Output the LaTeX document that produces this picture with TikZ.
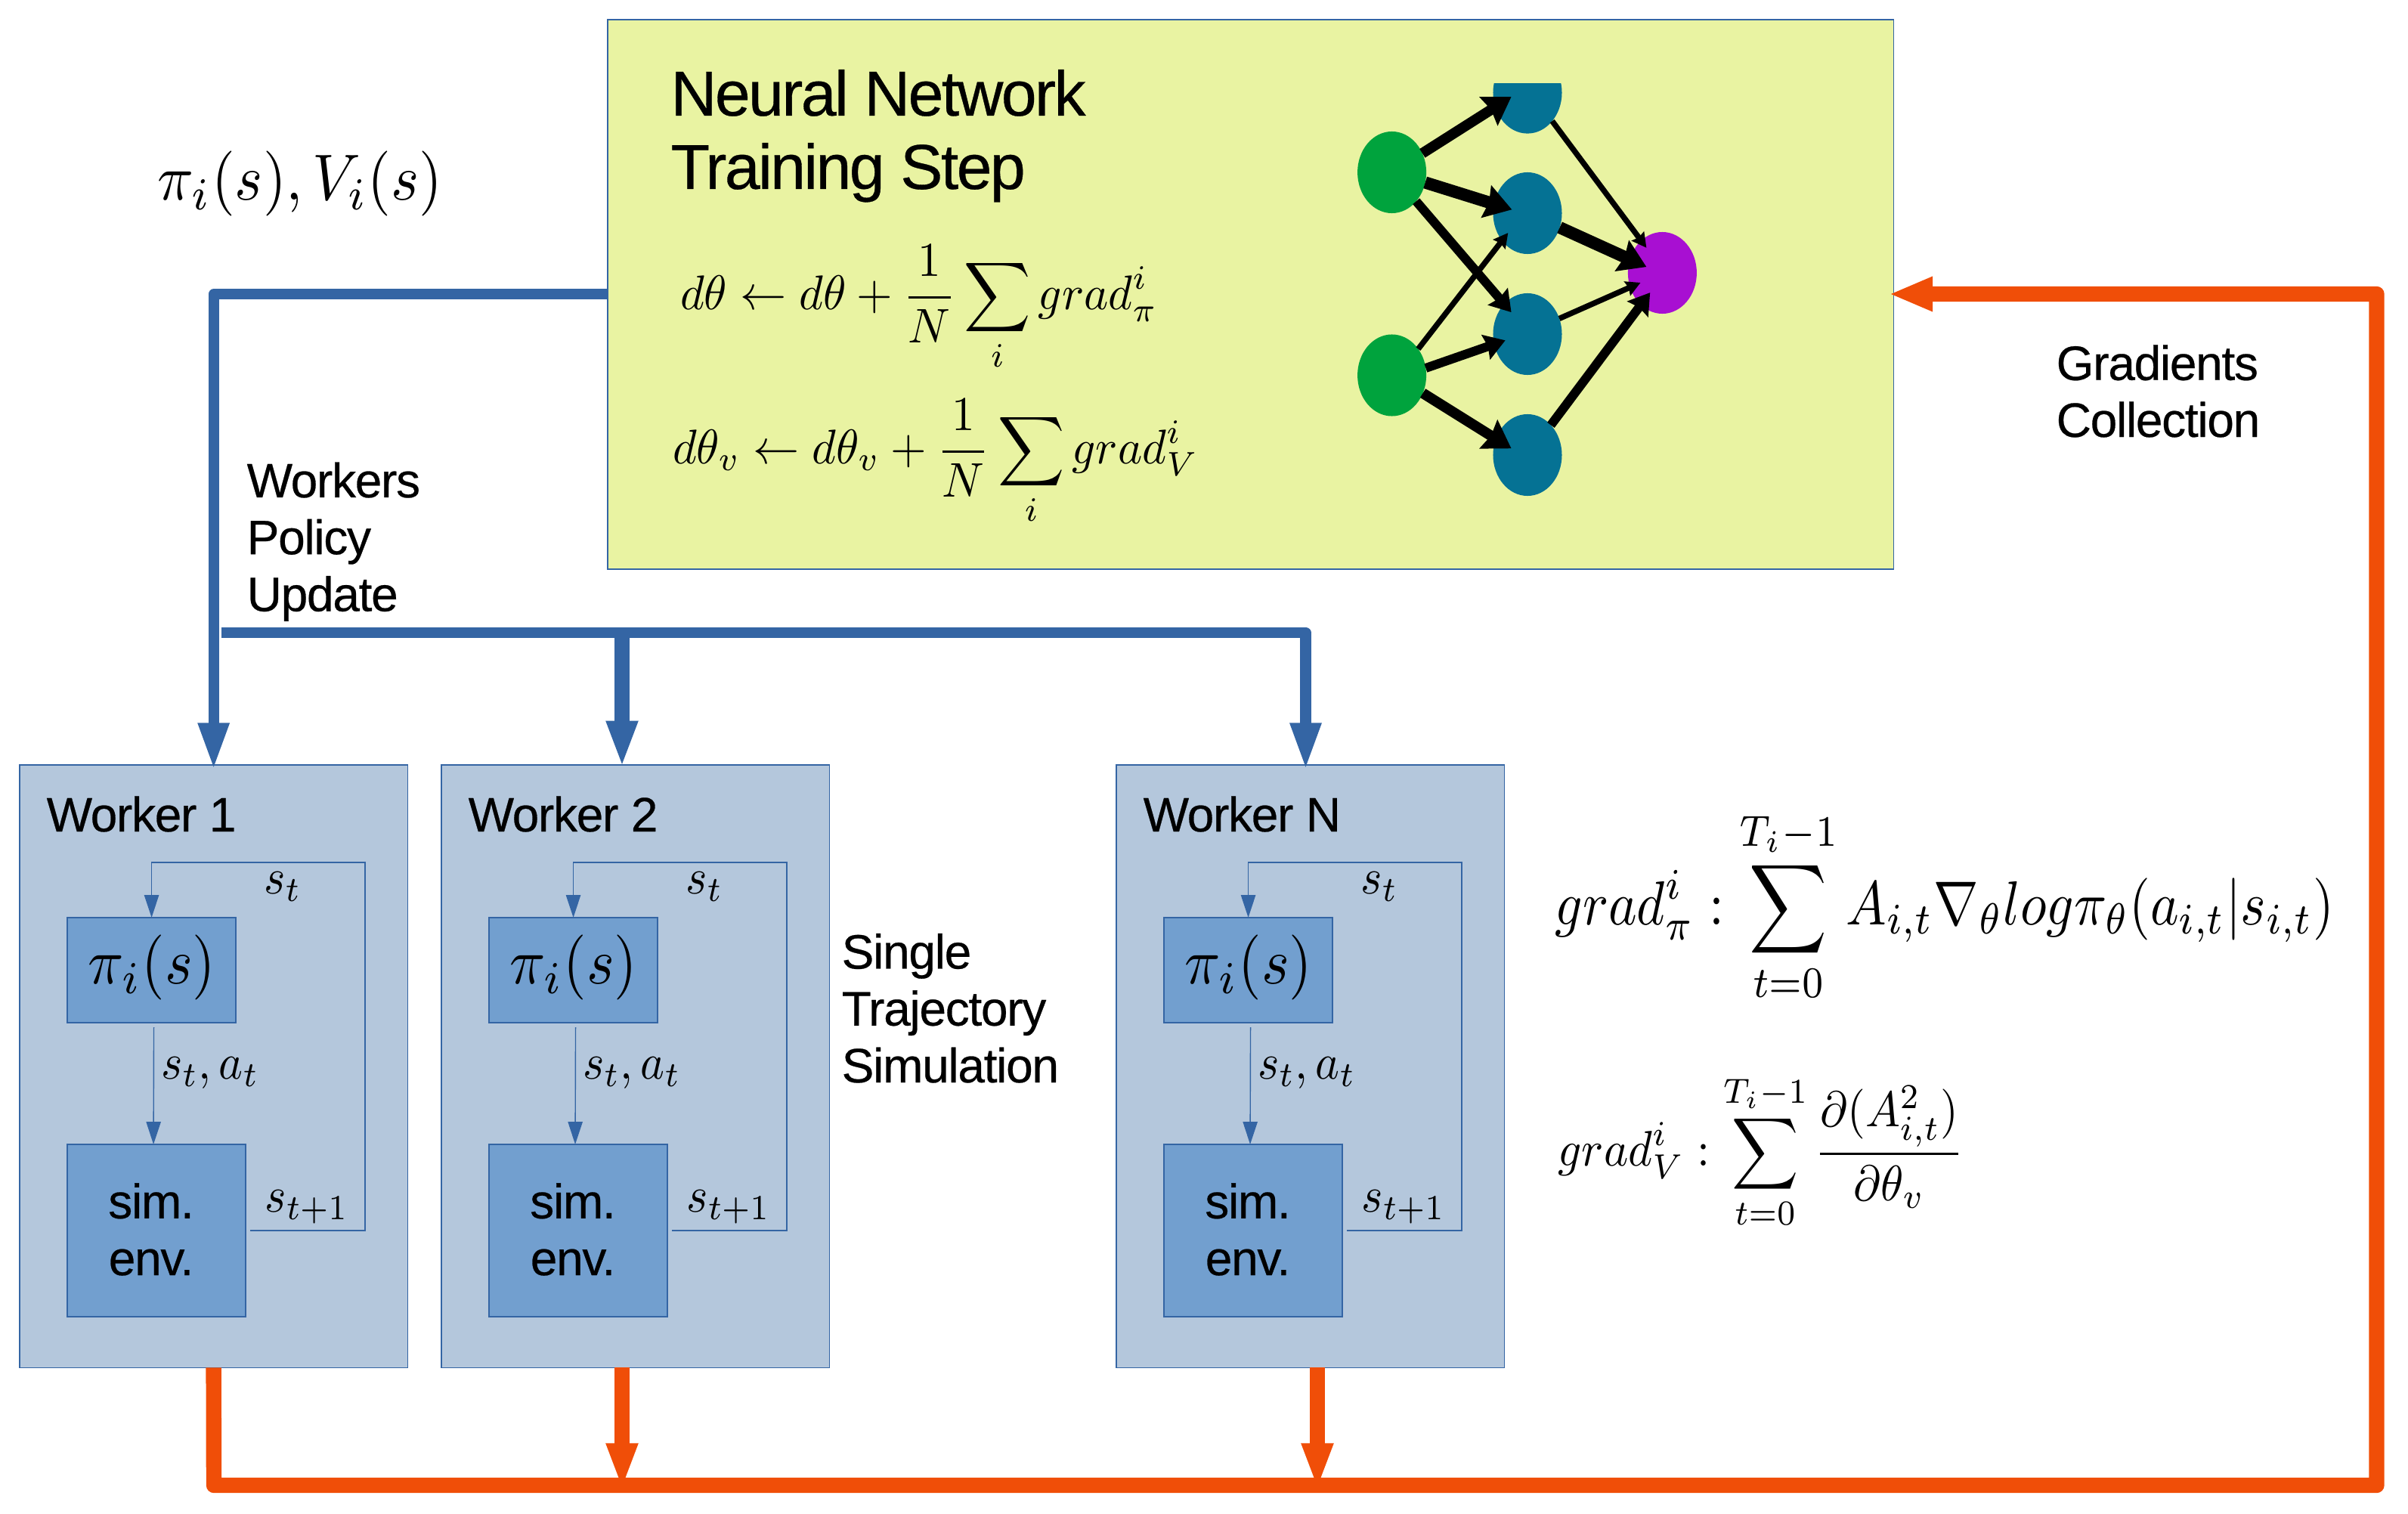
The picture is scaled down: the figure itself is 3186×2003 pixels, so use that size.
\documentclass[tikz,border=0pt]{standalone}
\usepackage{amsmath}
\usepackage[no-math]{fontspec}
\usepackage{tikz}
\usetikzlibrary{arrows.meta,shapes.geometric,calc}
\newfontfamily\libsans[LetterSpace=-3,FakeBold=0.4]{Liberation Sans}
\newfontfamily\libsansmid[LetterSpace=-2,FakeBold=0.4]{Liberation Sans}
\definecolor{linkblue}{HTML}{3465A4}
\definecolor{workerfill}{HTML}{B4C7DC}
\definecolor{innerfill}{HTML}{729FCF}
\definecolor{panelfill}{HTML}{E9F3A2}
\definecolor{linkorange}{HTML}{F04E08}
\definecolor{nngreen}{HTML}{00A33D}
\definecolor{nnteal}{HTML}{057294}
\definecolor{nnpurple}{HTML}{A80FD2}
\tikzset{
  panelbox/.style={draw=linkblue,fill=panelfill,line width=0.4pt,anchor=north west,inner sep=0pt,outer sep=0pt,minimum width=17.005cm,minimum height=7.265cm},
  workerbox/.style={draw=linkblue,fill=workerfill,line width=0.4pt,anchor=north west,inner sep=0pt,outer sep=0pt,minimum width=5.13cm,minimum height=7.97cm},
  pibox/.style={draw=linkblue,fill=innerfill,line width=0.4pt,anchor=north west,inner sep=0pt,outer sep=0pt,minimum width=2.23cm,minimum height=1.39cm},
  simbox/.style={draw=linkblue,fill=innerfill,line width=0.4pt,anchor=north west,inner sep=0pt,outer sep=0pt,minimum width=2.36cm,minimum height=2.28cm},
  bigtext/.style={font=\libsans\fontsize{23.9}{27.6}\selectfont,anchor=base west,align=left,inner sep=0pt},
  midtext/.style={font=\libsansmid\fontsize{18.2}{21.4}\selectfont,anchor=base west,align=left,inner sep=0pt},
  simtext/.style={font=\libsansmid\fontsize{18.2}{21.4}\selectfont,anchor=base,align=center,inner sep=0pt},
  bigmath/.style={inner sep=0pt,xscale=2.23,yscale=2.45},
  smallmath/.style={inner sep=0pt,xscale=1.72,yscale=1.9},
  panelmath/.style={inner sep=0pt,xscale=1.74,yscale=1.83},
  neuron/.style={ellipse,inner sep=0pt,outer sep=0pt,minimum width=0.91cm,minimum height=1.08cm},
  bluelink/.style={draw=linkblue,line width=4pt,line join=round},
  orangelink/.style={draw=linkorange,line width=5.8pt,line join=round},
  thinlink/.style={draw=linkblue,line width=0.4pt,-{Triangle[length=8.5pt,width=5.5pt]}},
  bluetip/.style={-{Triangle[length=17.6pt,width=10.8pt]},shorten >=-1.8pt},
  nnfat/.style={line width=4.6pt,-{Stealth[length=10pt,width=12.4pt,inset=1pt]}},
  nnmid/.style={line width=3.4pt,-{Stealth[length=7.7pt,width=9.6pt,inset=0.8pt]}},
  nnthin/.style={line width=2.1pt,-{Stealth[length=5.4pt,width=5.7pt,inset=0.6pt]}}
}
\begin{document}
\begin{tikzpicture}[x=0.01cm,y=-0.01cm]
\useasboundingbox (0,0) rectangle (3186,2003);
\node [panelbox] (panel) at (804,26) {};
\node [workerbox] (w1box) at (26,1012) {};
\node [workerbox] (w2box) at (584,1012) {};
\node [workerbox] (wNbox) at (1477,1012) {};
\node [bigtext] (nntitle) at (887,250) {Neural Network\\Training Step};
\node [panelmath] (eqpi) at (1216,408) {$\displaystyle d\theta \leftarrow d\theta + \frac{1}{N}\sum_i grad^i_\pi$};
\node [panelmath] (eqv) at (1238,612) {$\displaystyle d\theta_v \leftarrow d\theta_v + \frac{1}{N}\sum_i grad^i_V$};
\node [bigmath,xscale=1.01] (policy) at (397,243) {$\pi_i(s), V_i(s)$};
\node [midtext] (update) at (326,808.5) {Workers\\Policy\\Update};
\node [midtext] (single) at (1113,1432) {Single\\Trajectory\\Simulation};
\node [midtext] (gather) at (2720,578) {Gradients\\Collection};
\node [inner sep=0pt,xscale=2.03,yscale=2.34] (gradpi) at (2573,1200) {$\displaystyle grad^i_\pi : \sum_{t=0}^{T_i-1} A_{i,t}\nabla_\theta log\pi_\theta(a_{i,t}|s_{i,t})$};
\node [inner sep=0pt,xscale=1.74,yscale=1.88] (gradv) at (2330,1524) {$\displaystyle grad^i_V : \sum_{t=0}^{T_i-1} \frac{\partial (A^2_{i,t})}{\partial \theta_v}$};
\node [midtext] (w1name) at (61,1100) {Worker 1};
\node [pibox] (w1pi) at (89,1214) {};
\node [simbox] (w1sim) at (89,1514) {};
\node [bigmath] (w1pilab) at (201,1280) {$\pi_i(s)$};
\node [simtext] (w1simlab) at (200,1687) {sim.\\env.};
\node [smallmath] (w1st) at (374,1173) {$s_t$};
\node [smallmath] (w1sa) at (278,1420) {$s_t, a_t$};
\node [smallmath] (w1next) at (406,1597) {$s_{t+1}$};
\coordinate (w1turn) at (483,1141);
\draw [thinlink,shorten <=1.6pt] (w1sim.east) -| (w1turn) -| (w1pi.north);
\draw [thinlink,shorten <=1.7pt] ([xshift=0.03cm]w1pi.south) -- ([xshift=-0.04cm]w1sim.north);
\node [midtext] (w2name) at (619,1100) {Worker 2};
\node [pibox] (w2pi) at (647,1214) {};
\node [simbox] (w2sim) at (647,1514) {};
\node [bigmath] (w2pilab) at (759,1280) {$\pi_i(s)$};
\node [simtext] (w2simlab) at (758,1687) {sim.\\env.};
\node [smallmath] (w2st) at (932,1173) {$s_t$};
\node [smallmath] (w2sa) at (836,1420) {$s_t, a_t$};
\node [smallmath] (w2next) at (964,1597) {$s_{t+1}$};
\coordinate (w2turn) at (1041,1141);
\draw [thinlink,shorten <=1.6pt] (w2sim.east) -| (w2turn) -| (w2pi.north);
\draw [thinlink,shorten <=1.7pt] ([xshift=0.03cm]w2pi.south) -- ([xshift=-0.04cm]w2sim.north);
\node [midtext] (wNname) at (1512,1100) {Worker N};
\node [pibox] (wNpi) at (1540,1214) {};
\node [simbox] (wNsim) at (1540,1514) {};
\node [bigmath] (wNpilab) at (1652,1280) {$\pi_i(s)$};
\node [simtext] (wNsimlab) at (1651,1687) {sim.\\env.};
\node [smallmath] (wNst) at (1825,1173) {$s_t$};
\node [smallmath] (wNsa) at (1729,1420) {$s_t, a_t$};
\node [smallmath] (wNnext) at (1857,1597) {$s_{t+1}$};
\coordinate (wNturn) at (1934,1141);
\draw [thinlink,shorten <=1.6pt] (wNsim.east) -| (wNturn) -| (wNpi.north);
\draw [thinlink,shorten <=1.7pt] ([xshift=0.03cm]wNpi.south) -- ([xshift=-0.04cm]wNsim.north);
\draw [bluelink,bluetip] (panel.west) -| (w1box.north);
\coordinate (busleft) at (293,837);
\coordinate (bustwo) at (823,837);
\coordinate (busright) at (1727.5,837);
\draw [bluelink,bluetip] (busleft) -- (busright) -- (wNbox.north -| busright);
\draw [bluelink,bluetip,line width=5.7pt,shorten >=-1pt] (bustwo) -- (w2box.north -| bustwo);
\coordinate (basetwo) at (823,1965);
\coordinate (basethree) at (1743,1965);
\coordinate (baseone) at (283,1965);
\coordinate (baseright) at (3144.5,1965);
\coordinate (topright) at (3144.5,389);
\draw [orangelink,-{Triangle[length=16.5pt,width=12pt]},shorten >=-1.8pt] (w1box.south) -- (baseone) -- (baseright) -- (topright) -- (panel.east |- topright);
\draw [orangelink,bluetip] (w2box.south -| basetwo) -- (basetwo);
\draw [orangelink,bluetip] (wNbox.south -| basethree) -- (basethree);
\node [neuron,fill=nngreen] (g1) at (1841.6,228) {};
\node [neuron,fill=nngreen] (g2) at (1841.6,496.5) {};
\begin{scope}
\clip (1950,110.6) rectangle (2100,200);
\node [neuron,fill=nnteal] (t1) at (2021,122.6) {};
\end{scope}
\node [neuron,fill=nnteal] (t2) at (2021,282) {};
\node [neuron,fill=nnteal] (t3) at (2021,442) {};
\node [neuron,fill=nnteal] (t4) at (2021,602) {};
\node [neuron,fill=nnpurple] (out) at (2199.4,361) {};
\draw [nnfat,line width=3.9pt] (g1.32) -- ([xshift=-0.214cm,yshift=-0.055cm]t1.center);
\draw [nnfat] (g1.-17) -- ([xshift=-0.206cm,yshift=0.047cm]t2.center);
\draw [nnmid] (g1.-50) -- ([xshift=-0.214cm,yshift=0.289cm]t3.center);
\draw [nnthin] (g2.45) -- ([xshift=-0.257cm,yshift=-0.261cm]t2.center);
\draw [nnmid] (g2.12) -- ([xshift=-0.293cm,yshift=-0.083cm]t3.center);
\draw [nnfat,line width=3.9pt] (g2.-30) -- ([xshift=-0.214cm,yshift=0.087cm]t4.center);
\draw [nnthin] (t1.-49) -- ([xshift=-0.21cm,yshift=0.332cm]out.center);
\draw [nnfat] (t2.-24) -- ([xshift=-0.21cm,yshift=0.079cm]out.center);
\draw [nnthin] (t3.26) -- ([xshift=-0.289cm,yshift=-0.13cm]out.center);
\draw [nnmid] (t4.52) -- ([xshift=-0.162cm,yshift=-0.261cm]out.center);
\end{tikzpicture}
\end{document}
